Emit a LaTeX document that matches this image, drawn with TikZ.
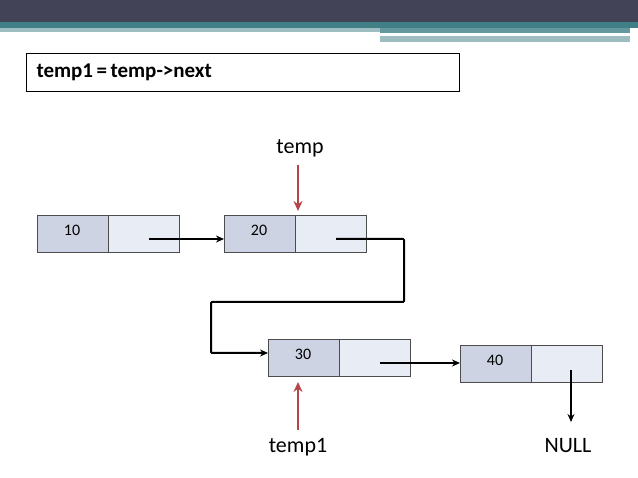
\documentclass[tikz,border=0pt]{standalone}
\usepackage{fontspec}
\setmainfont{Carlito}
\usetikzlibrary{arrows.meta}
\definecolor{dark}{HTML}{424356}
\definecolor{teal1}{HTML}{3F7F85}
\definecolor{teal2}{HTML}{9DBDC0}
\definecolor{dfill}{HTML}{CDD3E3}
\definecolor{nfill}{HTML}{E8ECF4}
\definecolor{redc}{HTML}{B5454A}
\tikzset{
  dcell/.style={draw=black!70,fill=dfill,line width=1pt},
  ncell/.style={draw=black!70,fill=nfill,line width=1pt},
  ptr/.style={line width=2pt,-{Stealth[length=8pt,width=7pt]}},
  rptr/.style={line width=2.8pt,redc,-{Stealth[length=10pt,width=9pt]}},
  lbl/.style={font=\fontsize{22}{26}\selectfont,anchor=center},
  num/.style={font=\fontsize{16}{19}\selectfont,anchor=center}
}
\begin{document}
\begin{tikzpicture}[x=1pt,y=-1pt]
\useasboundingbox (0,0) rectangle (638,478);
\fill[white] (0,0) rectangle (638,478);
% header
\fill[dark] (0,0) rectangle (638,22);
\fill[teal1] (0,22) rectangle (638,28);
\fill[teal2] (0,28) rectangle (380,32);
\fill[teal1!80] (380,28) rectangle (630,33);
\fill[teal2] (380,36) rectangle (630,42);
\fill[white] (380,33) rectangle (590,36);
% formula box
\node[draw,line width=1.3pt,minimum width=433pt,minimum height=38pt,anchor=north west,inner sep=0] (box) at (26,53) {};
\node[anchor=west,font=\bfseries\fontsize{21}{25}\selectfont] (formula) at (33,72) {temp1\,=\,temp->next};
% nodes
\foreach \n/\x/\y/\v in {a/37/216/10,b/224/216/20,c/268/340/30,d/460/346/40}{
  \draw[dcell] (\x,\y) rectangle +(71,37);
  \draw[ncell] (\x+71,\y) rectangle +(71,37);
  \coordinate (\n d) at (\x,\y+18.5);
  \coordinate (\n p) at (\x+112,\y+23);
  \node[num] (\n v) at (\x+35,\y+14) {\v};
}
\draw[ptr] (ap) -- (bd |- ap);
\coordinate (k1) at (404,239);
\coordinate (k2) at (404,302);
\coordinate (k3) at (211,302);
\coordinate (k4) at (211,353);
\draw[ptr,rounded corners=1pt] (bp) -- (k1) -- (k2) -- (k3) -- (k4) -- (cd |- k4);
\draw[ptr] (cp) -- (dd |- cp);
\coordinate (dn) at (571,370);
\node[lbl] (null) at (568,446) {NULL};
\draw[ptr] (dn) -- (571,422);
\node[lbl] (temp) at (300,148) {temp};
\draw[rptr] (298,165) -- (298,211);
\node[lbl] (temp1) at (298,447) {temp1};
\draw[rptr] (298,430) -- (298,382);
\end{tikzpicture}
\end{document}
